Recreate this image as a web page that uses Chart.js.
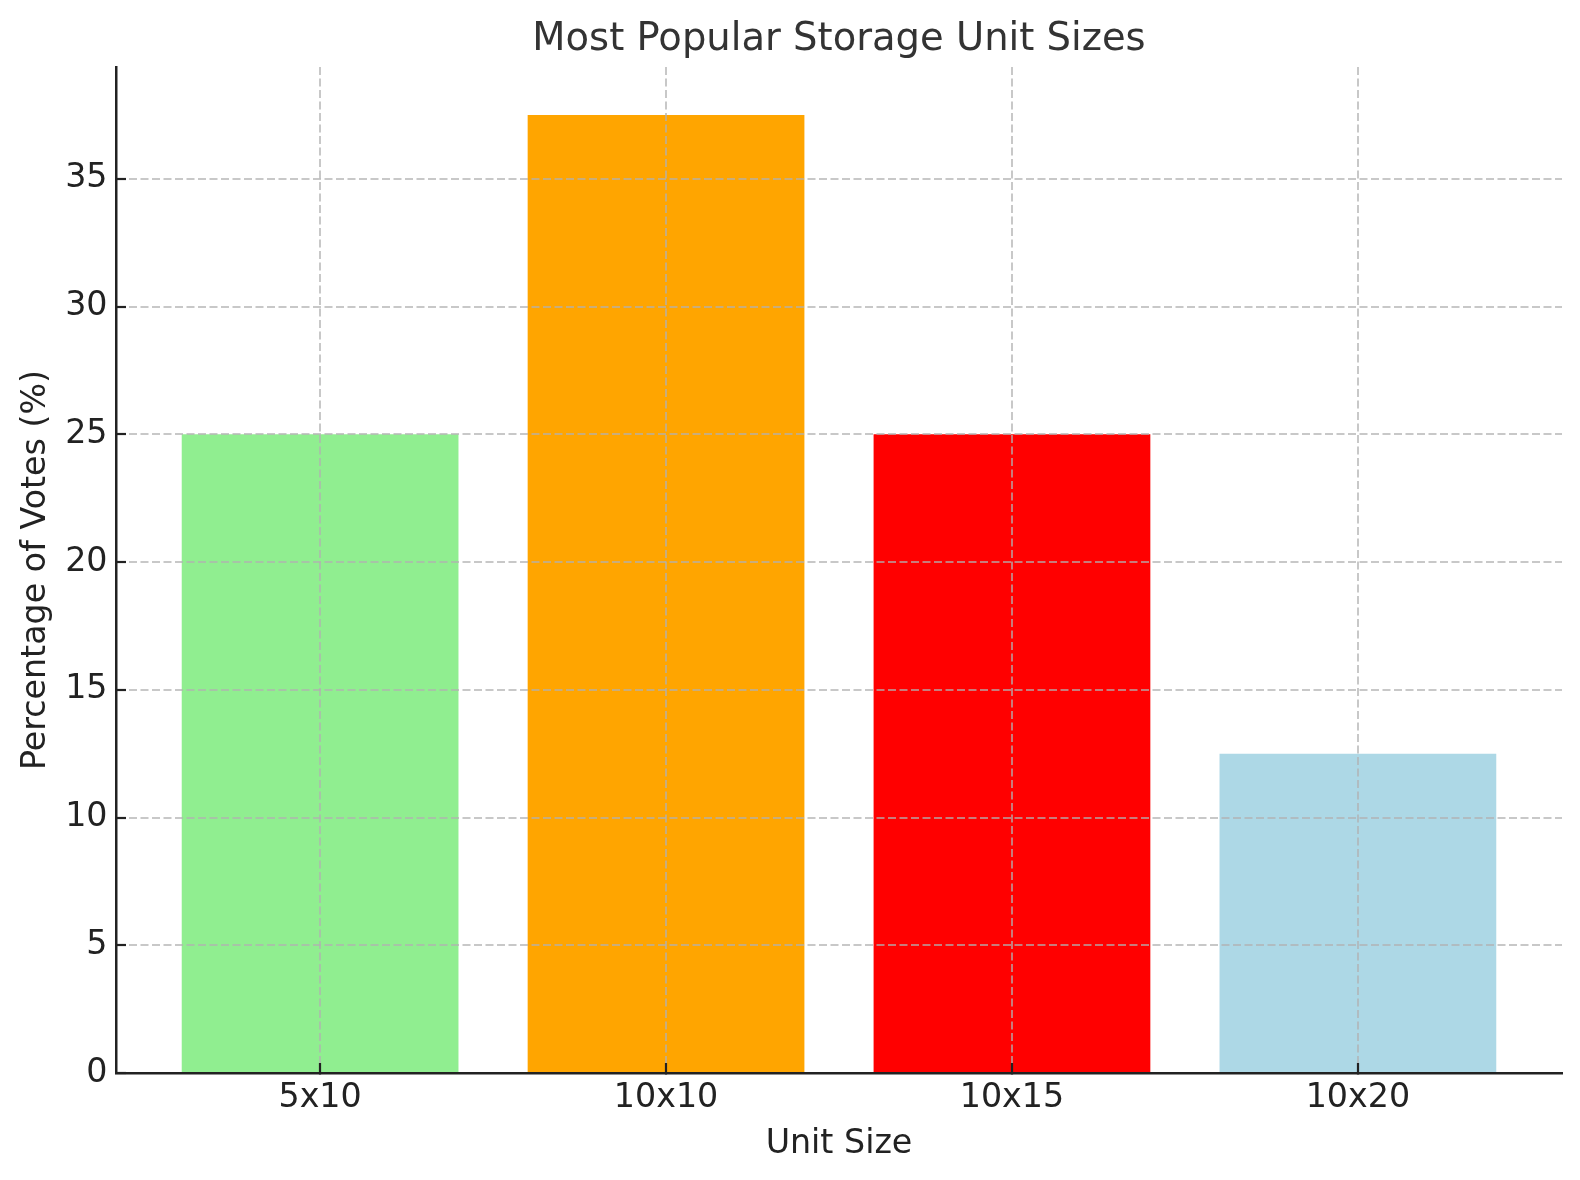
<!DOCTYPE html>
<html><head><meta charset="utf-8">
<script src="https://cdn.jsdelivr.net/npm/chart.js@4"></script>
<style>html,body{margin:0;padding:0;background:#fff}canvas{display:block}</style>
</head><body>
<canvas id="c" width="1580" height="1180" style="width:1580px;height:1180px"></canvas>
<script>
const categories = ['5x10', '10x10', '10x15', '10x20'];
const votes = [25, 37.5, 25, 12.5];
const barColors = ['#90EE90', '#FFA500', '#FF0000', '#ADD8E6'];
const yTicks = [0, 5, 10, 15, 20, 25, 30, 35];
const xTicks = [0, 1, 2, 3];
const chartTitle = 'Most Popular Storage Unit Sizes';
const xTitle = 'Unit Size';
const yTitle = 'Percentage of Votes (%)';

const FONT = 'DejaVu Sans';
const yMax = Math.max(...votes) * 1.05;
const gridColor = 'rgba(176,176,176,0.7)';
const dark = '#222';

new Chart(document.getElementById('c'), {
  type: 'bar',
  data: {
    datasets: [{
      data: categories.map((c, i) => ({x: i, y: votes[i]})),
      backgroundColor: barColors,
      borderWidth: 0,
      barPercentage: 0.8,
      categoryPercentage: 1
    }]
  },
  options: {
    responsive: false,
    devicePixelRatio: 1,
    animation: false,
    layout: {padding: {left: 0, right: 18, top: 0, bottom: 0}},
    plugins: {
      legend: {display: false},
      tooltip: {enabled: false},
      title: {
        display: true, text: chartTitle, fullSize: false,
        font: {family: FONT, size: 38.5, weight: 'normal'}, color: '#333',
        padding: {top: 17, bottom: 3.8}
      }
    },
    scales: {
      x: {
        type: 'linear', min: -0.59, max: 3.59, offset: false,
        afterBuildTicks: s => { s.ticks = xTicks.map(v => ({value: v})); },
        afterFit: s => { s.height = 107; },
        grid: {z: 1, offset: false, color: gridColor, lineWidth: 2, tickLength: -10, tickColor: dark, tickWidth: 2.2},
        border: {z: 2, display: true, color: dark, width: 2.5, dash: [8, 3.5]},
        ticks: {z: 2, padding: 15, color: dark, font: {family: FONT, size: 33.3}, maxRotation: 0, autoSkip: false,
                callback: v => categories[v] ?? ''},
        title: {display: true, text: xTitle, color: dark, font: {family: FONT, size: 33.3}, padding: {top: 0, bottom: 15.5}}
      },
      y: {
        type: 'linear', min: 0, max: yMax,
        afterBuildTicks: s => { s.ticks = yTicks.map(v => ({value: v})); },
        afterFit: s => { s.width = 116; },
        grid: {z: 1, color: gridColor, lineWidth: 2, tickLength: -10, tickColor: dark, tickWidth: 2.2},
        border: {z: 2, display: true, color: dark, width: 2.5, dash: [8, 3.5]},
        ticks: {z: 2, padding: 18.5, color: dark, font: {family: FONT, size: 33.3}},
        title: {display: true, text: yTitle, color: dark, font: {family: FONT, size: 33.3}, padding: {top: 16, bottom: 0}}
      }
    }
  }
});
</script>
</body></html>
